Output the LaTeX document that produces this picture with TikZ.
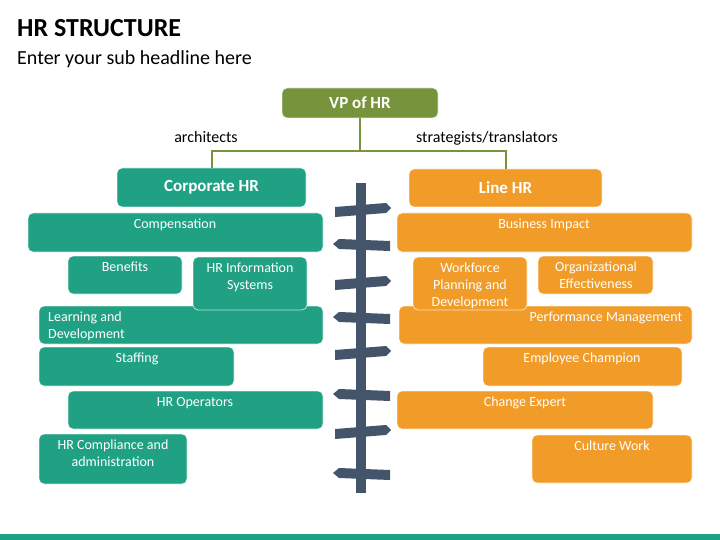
\documentclass[tikz,border=0pt]{standalone}
\usepackage{fontspec}
\setmainfont{Carlito}
\definecolor{teal1}{RGB}{33,161,132}
\definecolor{orange1}{RGB}{241,155,41}
\definecolor{olive1}{RGB}{119,147,60}
\definecolor{slate1}{RGB}{68,84,106}
\tikzset{
  box/.style={rounded corners=5pt, inner sep=0pt, outer sep=0pt, anchor=north west, draw=white, draw opacity=0.7, line width=0.8pt},
  tbox/.style={box, fill=teal1},
  obox/.style={box, fill=orange1},
  gbox/.style={box, fill=olive1},
  lbl/.style={inner sep=0pt, text=white, font=\fontsize{14}{17}\selectfont, align=center, anchor=north, yshift=-1.5pt},
  head/.style={inner sep=0pt, text=white, font=\bfseries\fontsize{17}{20}\selectfont},
  conn/.style={draw=olive1, line width=2pt},
  sign/.style={fill=slate1},
  note/.style={inner sep=0pt, font=\fontsize{16}{19}\selectfont, anchor=base}
}
\begin{document}
\begin{tikzpicture}[x=1pt,y=-1pt]
\useasboundingbox (0,0) rectangle (720,540);
% titles
\node[inner sep=0pt, anchor=base west, font=\bfseries\fontsize{26}{30}\selectfont] (title) at (17,36.7) {HR STRUCTURE};
\node[inner sep=0pt, anchor=base west, font=\fontsize{20}{24}\selectfont] (sub) at (17,65) {Enter your sub headline here};
% top
\node[gbox, minimum width=156pt, minimum height=30pt] (vp) at (282,88) {};
\node[head] (vpT) at (vp.center) {VP of HR};
\node[tbox, minimum width=189pt, minimum height=39pt] (corp) at (117,168) {};
\node[head] (corpT) at (corp.center) {Corporate HR};
\node[obox, minimum width=193pt, minimum height=38pt] (line) at (409,169) {};
\node[head] (lineT) at (line.center) {Line HR};
\coordinate (junc) at (360,151);
\draw[conn] (vp.south) -- (junc);
\draw[conn] (corp.north) |- (junc) -| (line.north);
\node[note] (arch) at (206,143) {architects};
\node[note] (strat) at (487,143) {strategists/translators};
% signpost
\fill[sign] (356,183) rectangle (366,493);
\foreach \c in {210,283,353,432}{
  \fill[sign] (335,\c-3) -- (386,\c-7) -- (391,\c-2) -- (386,\c+3) -- (335,\c+7) -- cycle;
}
\foreach \c in {244,317,394,473}{
  \fill[sign] (333,\c) -- (339,\c-5) -- (390,\c-3) -- (390,\c+7) -- (339,\c+5) -- cycle;
}
% left boxes
\node[tbox, minimum width=295pt, minimum height=39pt] (comp) at (28,213) {};
\node[tbox, minimum width=114pt, minimum height=38pt] (ben) at (68,256) {};
\node[tbox, minimum width=284pt, minimum height=38pt] (lnd) at (39,306) {};
\node[tbox, minimum width=114pt, minimum height=53pt] (hris) at (193,257) {};
\node[tbox, minimum width=195pt, minimum height=39pt] (staff) at (39,347) {};
\node[tbox, minimum width=255pt, minimum height=38pt] (hrop) at (68,391) {};
\node[tbox, minimum width=148pt, minimum height=50pt] (comply) at (39,434) {};
\node[lbl] (compT) at (175,217.5) {Compensation};
\node[lbl] (benT) at (125,260.5) {Benefits};
\node[lbl] (hrisT) at (250,261.5) {HR Information\\Systems};
\node[lbl, anchor=north west, align=left] (lndT) at (48,310.5) {Learning and\\Development};
\node[lbl] (staffT) at (137,351.5) {Staffing};
\node[lbl] (hropT) at (195,395.5) {HR Operators};
\node[lbl] (complyT) at (113,438.5) {HR Compliance and\\administration};
% right boxes
\node[obox, minimum width=295pt, minimum height=39pt] (bi) at (397,213) {};
\node[obox, minimum width=293pt, minimum height=38pt] (perf) at (399,306) {};
\node[obox, minimum width=114pt, minimum height=53pt] (wpd) at (413,257) {};
\node[obox, minimum width=115pt, minimum height=38pt] (oe) at (538,256) {};
\node[obox, minimum width=199pt, minimum height=39pt] (emp) at (483,347) {};
\node[obox, minimum width=256pt, minimum height=38pt] (chg) at (397,391) {};
\node[obox, minimum width=160pt, minimum height=48pt] (cult) at (532,435) {};
\node[lbl] (biT) at (544,217.5) {Business Impact};
\node[lbl] (wpdT) at (470,261.5) {Workforce\\Planning and\\Development};
\node[lbl] (oeT) at (596,260.5) {Organizational\\Effectiveness};
\node[lbl] (perfT) at (606,310.5) {Performance Management};
\node[lbl] (empT) at (582,351.5) {Employee Champion};
\node[lbl] (chgT) at (525,395.5) {Change Expert};
\node[lbl] (cultT) at (612,439.5) {Culture Work};
% bottom bar
\fill[teal1] (0,534) rectangle (720,540);
\end{tikzpicture}
\end{document}
